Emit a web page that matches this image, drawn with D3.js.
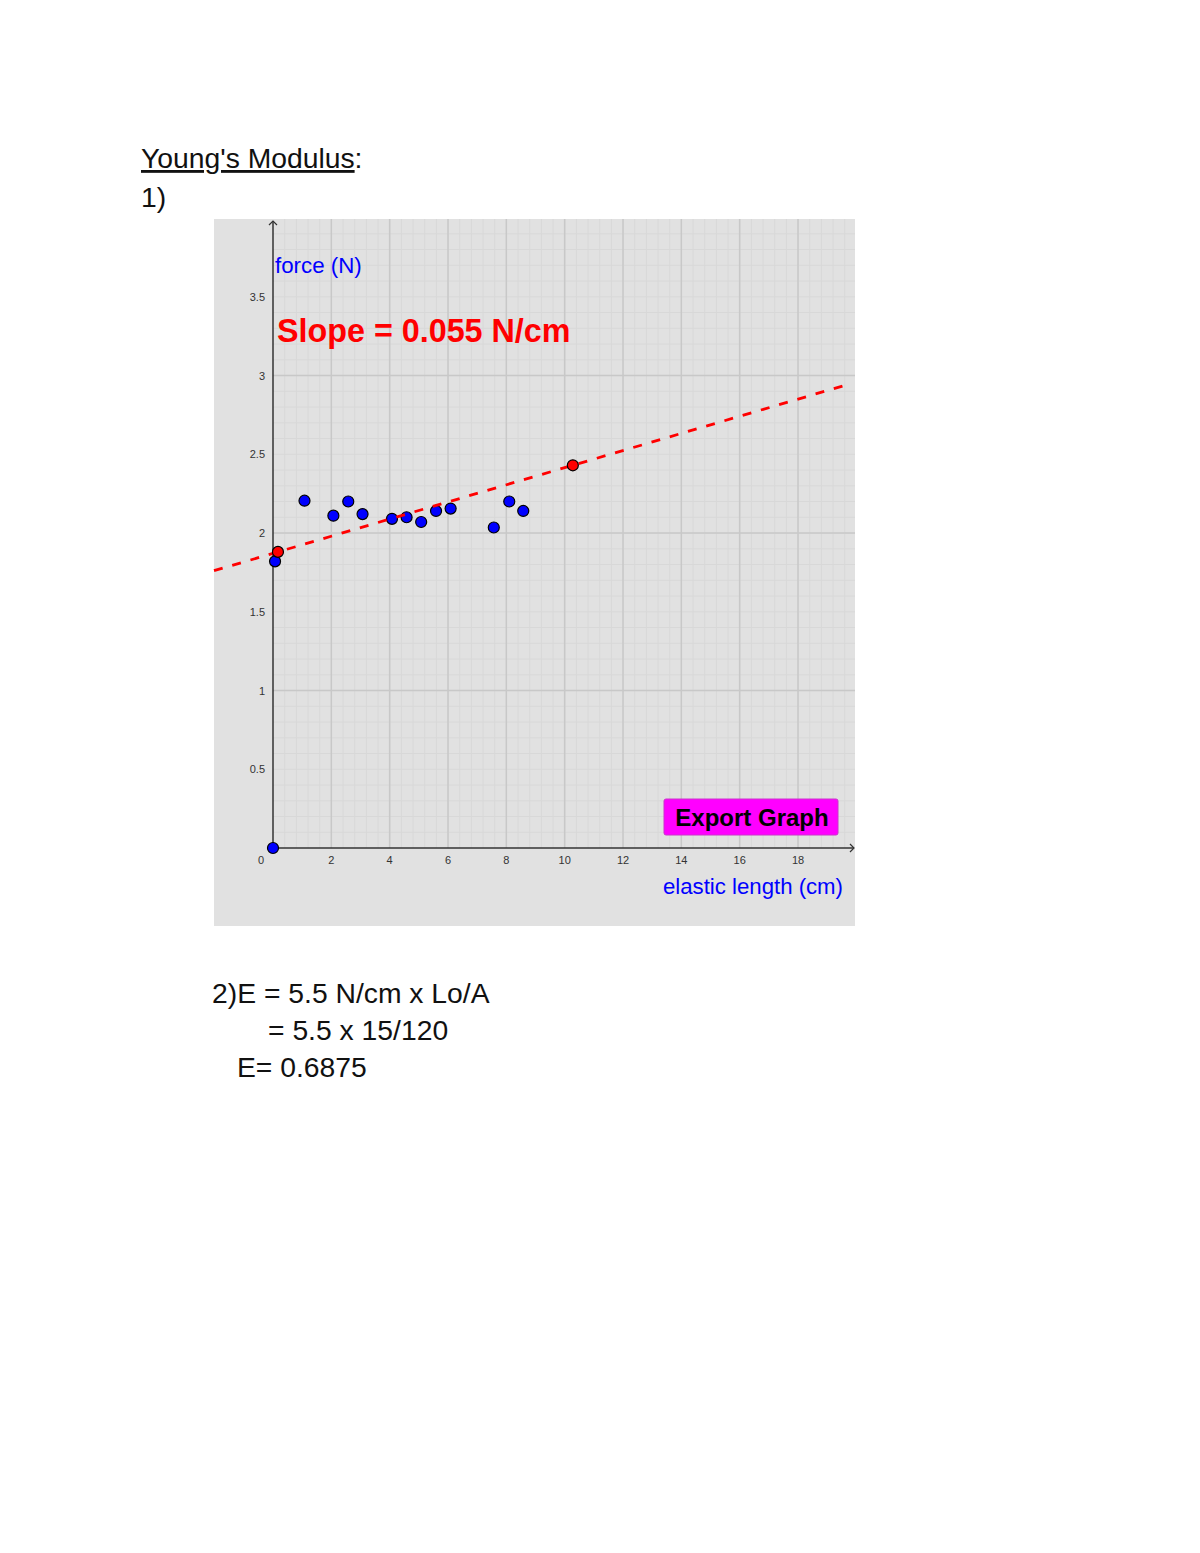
<!DOCTYPE html>
<html>
<head>
<meta charset="utf-8">
<script src="https://cdn.jsdelivr.net/npm/d3@7"></script>
<style>
  html, body { margin: 0; padding: 0; background: #fff; }
  svg { display: block; }
</style>
</head>
<body>
<svg id="page" width="1200" height="1553"></svg>
<script>
// measured points: elastic length (cm) vs force (N)
const lengths = [0, 0.07, 1.08, 2.07, 2.58, 3.07, 4.08, 4.58, 5.08, 5.59, 6.09, 7.57, 8.10, 8.58]
const forces = [0, 1.82, 2.205, 2.11, 2.20, 2.12, 2.09, 2.10, 2.07, 2.14, 2.155, 2.035, 2.20, 2.14]

// two red points that define the fitted line
const fitLengths = [0.17, 10.28]
const fitForces = [1.88, 2.43]

const xTicks = [0, 2, 4, 6, 8, 10, 12, 14, 16, 18]
const yTicks = [0.5, 1, 1.5, 2, 2.5, 3, 3.5]

const svg = d3.select('#page')

// chart frame (GeoGebra style panel)
const frame = { left: 214, top: 219, right: 855, bottom: 926 }

const x = d3.scaleLinear().domain([0, 18]).range([273, 798])
const y = d3.scaleLinear().domain([0, 3]).range([848, 375.5])

const xMin = x.invert(frame.left)
const xMax = x.invert(frame.right)
const yMax = y.invert(frame.top)

// page texts
const txt = svg.append('g')
  .attr('font-family', 'Liberation Sans, Arial, sans-serif')
  .attr('fill', '#111')
  .attr('font-size', 28.3)

txt.append('text').attr('x', 141).attr('y', 168).text("Young's Modulus")
  .attr('text-decoration', 'underline')
  .attr('id', 'title')
const titleW = txt.select('#title').node().getComputedTextLength()
txt.append('text').attr('x', 141 + titleW).attr('y', 168).text(':')
txt.append('text').attr('x', 141).attr('y', 207).text('1)')

txt.append('text').attr('x', 212).attr('y', 1003).text('2)E = 5.5 N/cm x Lo/A')
txt.append('text').attr('x', 268).attr('y', 1040).text('= 5.5 x 15/120')
txt.append('text').attr('x', 237).attr('y', 1077).text('E= 0.6875')

// background
svg.append('rect')
  .attr('x', frame.left)
  .attr('y', frame.top)
  .attr('width', frame.right - frame.left)
  .attr('height', frame.bottom - frame.top)
  .attr('fill', '#e1e1e1')

// grid covers only the first quadrant
const grid = svg.append('g').attr('id', 'grid')

grid.append('g').selectAll('line')
  .data(d3.range(0.4, xMax, 0.4))
  .join('line')
  .attr('x1', (d) => x(d)).attr('x2', (d) => x(d))
  .attr('y1', frame.top).attr('y2', y(0))
  .attr('stroke', '#d8d8d8')
  .attr('stroke-width', 1)

grid.append('g').selectAll('line')
  .data(d3.range(0.1, yMax, 0.1))
  .join('line')
  .attr('x1', x(0)).attr('x2', frame.right)
  .attr('y1', (d) => y(d)).attr('y2', (d) => y(d))
  .attr('stroke', '#d8d8d8')
  .attr('stroke-width', 1)

grid.append('g').selectAll('line')
  .data(d3.range(2, xMax, 2))
  .join('line')
  .attr('x1', (d) => x(d)).attr('x2', (d) => x(d))
  .attr('y1', frame.top).attr('y2', y(0))
  .attr('stroke', '#c8c8c8')
  .attr('stroke-width', 1.5)

grid.append('g').selectAll('line')
  .data(d3.range(1, yMax, 1))
  .join('line')
  .attr('x1', x(0)).attr('x2', frame.right)
  .attr('y1', (d) => y(d)).attr('y2', (d) => y(d))
  .attr('stroke', '#c8c8c8')
  .attr('stroke-width', 1.5)

// axes with arrow heads
const axes = svg.append('g').attr('stroke', '#333').attr('fill', 'none')
axes.append('line')
  .attr('x1', x(0)).attr('x2', frame.right - 1)
  .attr('y1', y(0)).attr('y2', y(0))
  .attr('stroke-width', 1.5)
axes.append('path')
  .attr('d', `M${frame.right - 5},${y(0) - 4}L${frame.right - 1},${y(0)}L${frame.right - 5},${y(0) + 4}`)
  .attr('stroke-width', 1.2)
axes.append('line')
  .attr('x1', x(0)).attr('x2', x(0))
  .attr('y1', y(0)).attr('y2', frame.top + 2)
  .attr('stroke-width', 1.5)
axes.append('path')
  .attr('d', `M${x(0) - 4},${frame.top + 6}L${x(0)},${frame.top + 2}L${x(0) + 4},${frame.top + 6}`)
  .attr('stroke-width', 1.2)

// tick labels
const tickLabels = svg.append('g')
  .attr('font-family', 'Liberation Sans, Arial, sans-serif')
  .attr('font-size', 11)
  .attr('fill', '#333')

tickLabels.selectAll('text.x')
  .data(xTicks)
  .join('text')
  .attr('x', (d) => (d === 0 ? x(0) - 12 : x(d)))
  .attr('y', y(0) + 16)
  .attr('text-anchor', 'middle')
  .text((d) => d)

tickLabels.selectAll('text.y')
  .data(yTicks)
  .join('text')
  .attr('x', x(0) - 8)
  .attr('y', (d) => y(d) + 4)
  .attr('text-anchor', 'end')
  .text((d) => d)

// axis titles
svg.append('text')
  .attr('x', x(0) + 2)
  .attr('y', 273)
  .attr('font-family', 'Liberation Sans, Arial, sans-serif')
  .attr('font-size', 22.3)
  .attr('fill', '#0000ff')
  .text('force (N)')

svg.append('text')
  .attr('x', 843)
  .attr('y', 894)
  .attr('text-anchor', 'end')
  .attr('font-family', 'Liberation Sans, Arial, sans-serif')
  .attr('font-size', 22.2)
  .attr('fill', '#0000ff')
  .text('elastic length (cm)')

svg.append('text')
  .attr('x', 277)
  .attr('y', 342)
  .attr('font-family', 'Liberation Sans, Arial, sans-serif')
  .attr('font-size', 32.3)
  .attr('font-weight', 'bold')
  .attr('fill', '#ff0000')
  .text('Slope = 0.055 N/cm')

// export button
const btn = svg.append('g')
btn.append('rect')
  .attr('x', 664).attr('y', 799)
  .attr('width', 174).attr('height', 36)
  .attr('rx', 2)
  .attr('fill', '#ff00ff')
  .attr('stroke', '#cc33cc')
btn.append('text')
  .attr('x', 752).attr('y', 826)
  .attr('text-anchor', 'middle')
  .attr('font-family', 'Liberation Sans, Arial, sans-serif')
  .attr('font-size', 24)
  .attr('font-weight', 'bold')
  .attr('fill', '#000')
  .text('Export Graph')

// measured points
const pts = lengths.map((d, i) => [d, forces[i]])
svg.append('g').selectAll('circle')
  .data(pts)
  .join('circle')
  .attr('cx', (d) => x(d[0]))
  .attr('cy', (d) => y(d[1]))
  .attr('r', 5.5)
  .attr('fill', '#0000ff')
  .attr('stroke', '#000')
  .attr('stroke-width', 1.2)

// fitted dashed line through the two red points
const slope = (fitForces[1] - fitForces[0]) / (fitLengths[1] - fitLengths[0])
const fitAt = (v) => fitForces[0] + slope * (v - fitLengths[0])
const lineEnd = x.invert(848)
svg.append('line')
  .attr('x1', x(xMin)).attr('y1', y(fitAt(xMin)))
  .attr('x2', x(lineEnd)).attr('y2', y(fitAt(lineEnd)))
  .attr('stroke', '#ff0000')
  .attr('stroke-width', 2.8)
  .attr('stroke-dasharray', '9,10')

svg.append('g').selectAll('circle')
  .data(fitLengths.map((d, i) => [d, fitForces[i]]))
  .join('circle')
  .attr('cx', (d) => x(d[0]))
  .attr('cy', (d) => y(d[1]))
  .attr('r', 5.5)
  .attr('fill', '#ff0000')
  .attr('stroke', '#000')
  .attr('stroke-width', 1.2)
</script>
</body>
</html>
